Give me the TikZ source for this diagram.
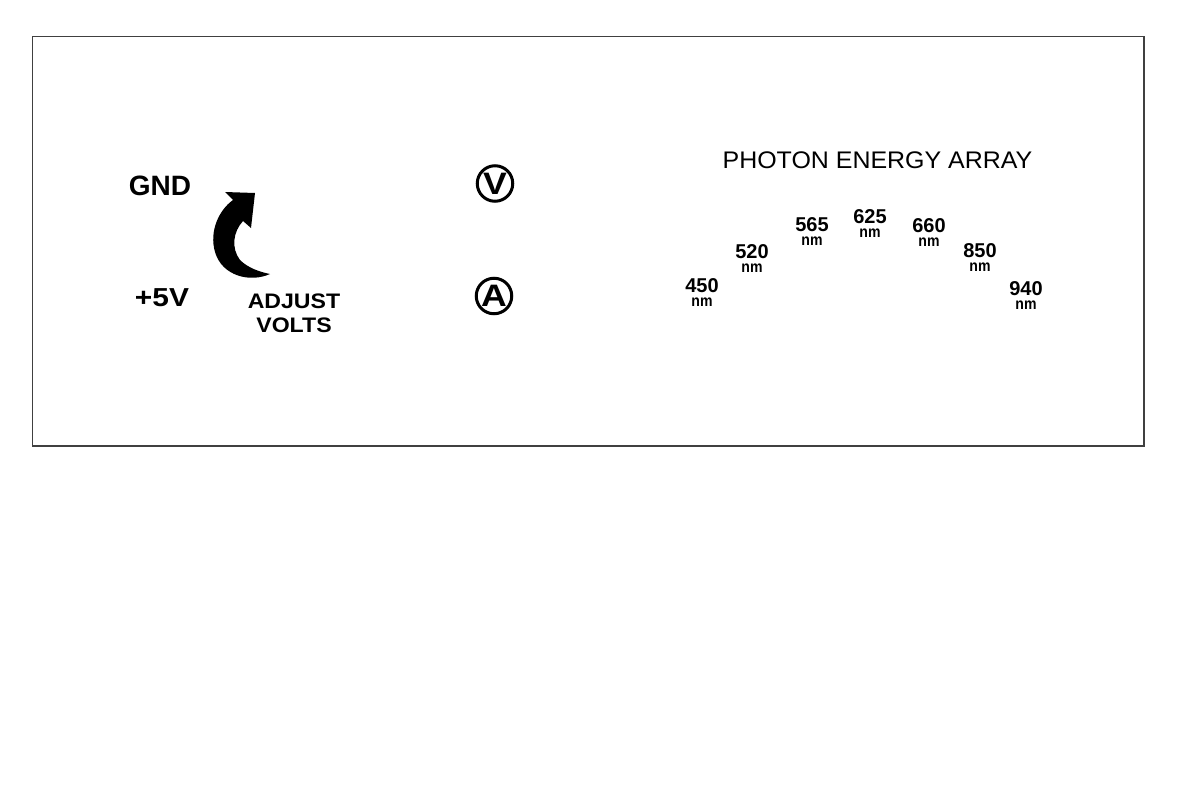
\documentclass[tikz,border=0pt]{standalone}
\usepackage{fontspec}
\setmainfont{Liberation Sans}
\usepackage{graphicx}
\definecolor{framecol}{HTML}{404040}
\begin{document}
\begin{tikzpicture}[x=1pt,y=-1pt,
  lbl/.style={inner sep=0pt, anchor=base},
  big/.style={lbl, font=\fontsize{28}{30}\selectfont\bfseries},
  mid/.style={lbl, font=\fontsize{21}{24}\selectfont\bfseries},
  title/.style={lbl, font=\fontsize{24}{26}\selectfont},
  num/.style={lbl, font=\fontsize{20}{22}\selectfont\bfseries},
  unit/.style={lbl, font=\fontsize{16}{17}\selectfont\bfseries},
  meter/.style={draw, circle, line width=3pt, minimum size=35.5pt, inner sep=0pt,
                font=\fontsize{31}{33}\selectfont\bfseries}
]
\useasboundingbox (0,0) rectangle (1200,800);
\fill[white] (0,0) rectangle (1200,800);
\draw[framecol, line width=1.3pt] (32.5,36.7) rectangle (1144,446);

% left panel
\node[big] (gnd) at (160,195) {GND};
\node[big, font=\fontsize{26}{28}\selectfont\bfseries] (pfive) at (162,306) {\scalebox{1.15}[1]{+5V}};
\node[mid] (adj) at (294,308) {\scalebox{1.1}[1]{ADJUST}};
\node[mid] (volts) at (294,332) {\scalebox{1.1}[1]{VOLTS}};

% curved adjust arrow
\fill[black] (270,274)
  .. controls (250,283) and (222,276) .. (215,252)
  .. controls (209,231) and (219,210) .. (233,200)
  -- (225,192) -- (255,193) -- (251,228) -- (243,221)
  .. controls (233,232) and (231,248) .. (240,260)
  .. controls (248,268) and (260,272) .. (270,274) -- cycle;

% meters
\node[meter] (vmeter) at (495,183.5) {\scalebox{1.15}[1]{V}};
\node[meter] (ameter) at (494,296) {\scalebox{1.15}[1]{A}};

% photon energy array
\node[title] (ttl) at (877.5,168) {\scalebox{1.04}[1]{PHOTON ENERGY ARRAY}};
\foreach \n/\x/\b in {450/702/292, 520/752/258, 565/812/231, 625/870/223,
                      660/929/232, 850/980/257, 940/1026/295} {
  \node[num] (w\n) at (\x,\b) {\n};
  \node[unit] (u\n) at (\x,\b+14) {\scalebox{0.88}[1]{nm}};
}
\end{tikzpicture}
\end{document}
